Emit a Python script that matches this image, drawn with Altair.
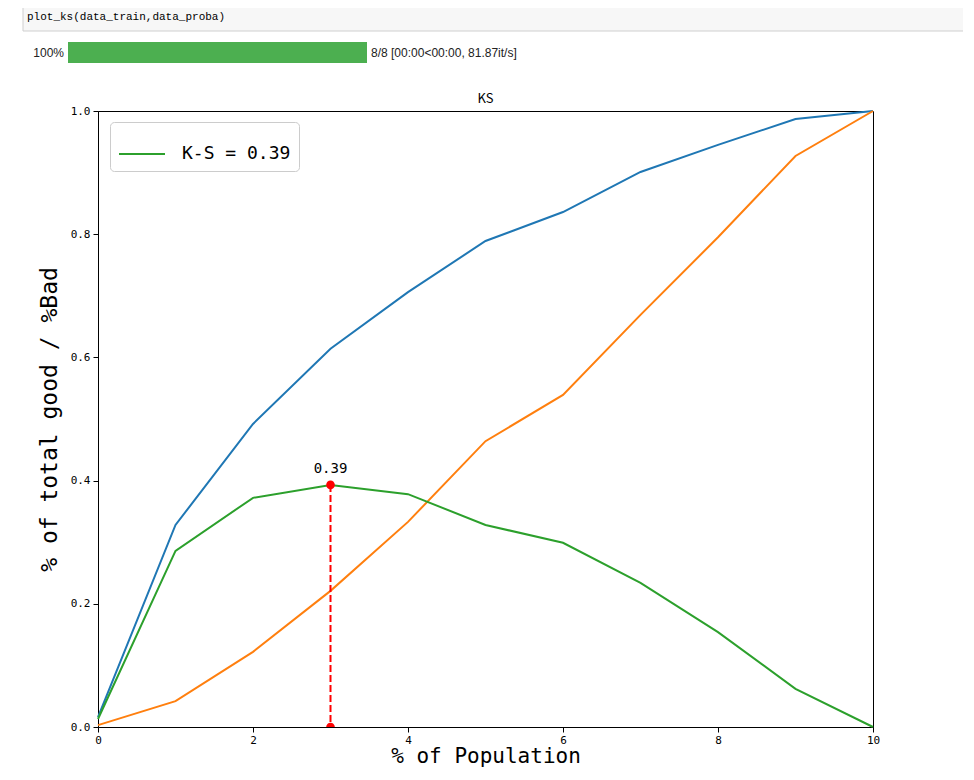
import altair as alt
import pandas as pd

# ---- data ----
population = [0, 1, 2, 3, 4, 5, 6, 7, 8, 9, 10]
cum_good = [0.016, 0.328, 0.492, 0.614, 0.706, 0.789, 0.836, 0.901, 0.945, 0.987, 1.0]
cum_bad = [0.003, 0.042, 0.122, 0.221, 0.333, 0.464, 0.539, 0.669, 0.795, 0.927, 1.0]
ks_curve = [0.013, 0.286, 0.372, 0.393, 0.378, 0.328, 0.299, 0.234, 0.154, 0.062, 0.0]
ks_x = [3, 3]
ks_y = [0.393, 0.0]
ks_label = "0.39"
legend_label = "K-S = 0.39"
chart_title = "KS"
x_title = "% of Population"
y_title = "% of total good / %Bad"
code_text = "plot_ks(data_train,data_proba)"
pct_text = "100%"
progress_text = "8/8 [00:00<00:00, 81.87it/s]"

MONO = "DejaVu Sans Mono"
W, H = 775, 616
TOP = 103  # top padding; header items are placed relative to the plot origin
SH = 103 - TOP  # shift to keep header at its page position

df = pd.DataFrame({"x": population, "good": cum_good, "bad": cum_bad, "ks": ks_curve,
                   "series": [legend_label] * len(population)})
df_ks = pd.DataFrame({"x": ks_x, "y": ks_y})
df_lab = pd.DataFrame({"x": [ks_x[0]], "y": [ks_y[0]], "t": [ks_label]})
one = pd.DataFrame({"a": [0]})

xs = alt.Scale(domain=[0, 10], nice=False, zero=False)
ys = alt.Scale(domain=[0, 1], nice=False)
X = alt.X("x:Q", scale=xs, title=x_title,
          axis=alt.Axis(values=[0, 2, 4, 6, 8, 10], format="d", titlePadding=0,
                        titleFontSize=21, labelPadding=2, labelFlush=False))
Y_axis = alt.Axis(values=[0, 0.2, 0.4, 0.6, 0.8, 1.0], format=".1f", titlePadding=9,
                  labelFlush=False, titleFontSize=23)

base = alt.Chart(df)
blue = base.mark_line(color="#1f77b4", strokeWidth=2).encode(
    x=X, y=alt.Y("good:Q", scale=ys, title=y_title, axis=Y_axis))
orange = base.mark_line(color="#ff7f0e", strokeWidth=2).encode(
    x=X, y=alt.Y("bad:Q", scale=ys))
green = base.mark_line(strokeWidth=2).encode(
    x=X, y=alt.Y("ks:Q", scale=ys),
    color=alt.Color("series:N", scale=alt.Scale(domain=[legend_label], range=["#2ca02c"]),
                    legend=alt.Legend(title=None, orient="none", legendX=12, legendY=11,
                                      symbolType="stroke", symbolSize=2116, symbolStrokeWidth=2,
                                      labelFont=MONO, labelFontSize=18, labelColor="black",
                                      labelOffset=16, padding=8, strokeColor="#cccccc",
                                      fillColor="white", cornerRadius=4)))
rule = alt.Chart(df_ks).mark_line(color="red", strokeWidth=2, strokeDash=[7, 3]).encode(
    x=alt.X("x:Q", scale=xs), y=alt.Y("y:Q", scale=ys))
pts = alt.Chart(df_ks).mark_circle(color="red", size=75, opacity=1, clip=True).encode(
    x=alt.X("x:Q", scale=xs), y=alt.Y("y:Q", scale=ys))
lab = alt.Chart(df_lab).mark_text(font=MONO, fontSize=14, color="black", dy=-12,
                                  baseline="alphabetic").encode(
    x=alt.X("x:Q", scale=xs), y=alt.Y("y:Q", scale=ys), text="t:N")

title_mark = alt.Chart(one).mark_text(text=chart_title, font="Noto Sans CJK SC", fontSize=13,
                                      color="black", align="center", baseline="alphabetic").encode(
    x=alt.value(W / 2), y=alt.value(-8 + SH))

# ---- notebook header decoration ----
code_box = alt.Chart(one).mark_rect(fill="#f7f7f7", stroke="#cfcfcf", strokeWidth=1).encode(
    x=alt.value(-75), x2=alt.value(880), y=alt.value(-115), y2=alt.value(-80 + SH))
code = alt.Chart(one).mark_text(text=code_text, font="Liberation Mono", fontSize=11,
                                color="black", align="left", baseline="middle").encode(
    x=alt.value(-71), y=alt.value(-94 + SH))
pct = alt.Chart(one).mark_text(text=pct_text, font="Liberation Sans", fontSize=12,
                               color="#222", align="right", baseline="middle").encode(
    x=alt.value(-34), y=alt.value(-58 + SH))
bar = alt.Chart(one).mark_rect(fill="#4caf50").encode(
    x=alt.value(-30), x2=alt.value(269), y=alt.value(-69 + SH), y2=alt.value(-48 + SH))
prog = alt.Chart(one).mark_text(text=progress_text, font="Liberation Sans", fontSize=12,
                                color="#222", align="left", baseline="middle").encode(
    x=alt.value(273), y=alt.value(-58 + SH))

chart = alt.layer(blue, orange, green, rule, pts, lab, title_mark,
                  code_box, code, pct, bar, prog).properties(
    width=W, height=H,
    padding={"left": 90, "top": TOP, "right": 90, "bottom": 41},
    autosize=alt.AutoSizeParams(type="none"),
    background="white",
).configure_view(stroke="black", strokeWidth=1).configure_axis(
    grid=False, domainColor="black", tickColor="black", tickSize=5, labelPadding=3,
    labelColor="black", labelFont=MONO, labelFontSize=11,
    titleFont=MONO, titleFontWeight="normal", titleColor="black",
)

chart.save("out.html", embed_options={"renderer": "svg", "actions": False})
